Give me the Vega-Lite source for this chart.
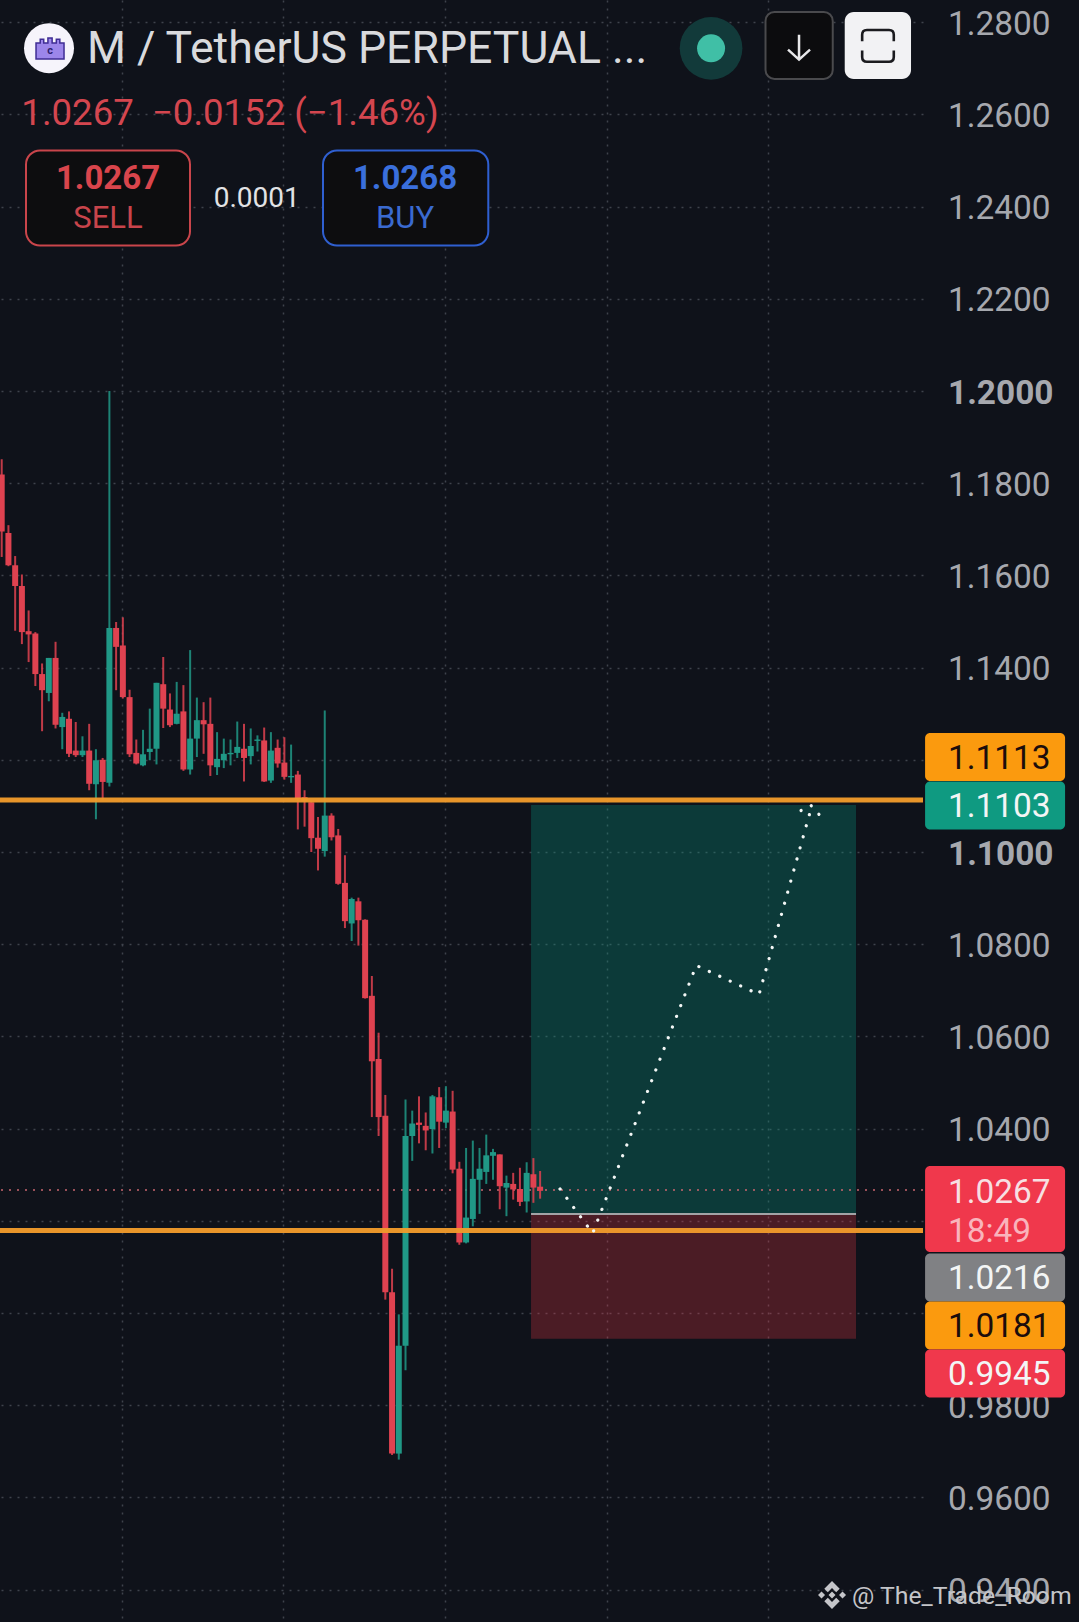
{
  "$schema": "https://vega.github.io/schema/vega-lite/v6.json",
  "width": 923,
  "height": 1622,
  "autosize": "none",
  "padding": {"left": 0, "top": 0, "right": 156, "bottom": 0},
  "background": "#0f121a",
  "config": {"view": {"stroke": null}, "font": "Roboto", "text": {"font": "Roboto"}},
  "datasets": {
    "candles": [
      {"bar":0,"open":1.1819,"close":1.1695,"high":1.1852,"low":1.1640},
      {"bar":1,"open":1.1692,"close":1.1622,"high":1.1709,"low":1.1620},
      {"bar":2,"open":1.1622,"close":1.1577,"high":1.1642,"low":1.1480},
      {"bar":3,"open":1.1577,"close":1.1477,"high":1.1602,"low":1.1451},
      {"bar":4,"open":1.1479,"close":1.1472,"high":1.1524,"low":1.1412},
      {"bar":5,"open":1.1474,"close":1.1386,"high":1.1477,"low":1.1360},
      {"bar":6,"open":1.1386,"close":1.1351,"high":1.1409,"low":1.1262},
      {"bar":7,"open":1.1345,"close":1.1421,"high":1.1421,"low":1.1327},
      {"bar":8,"open":1.1421,"close":1.1276,"high":1.1456,"low":1.1268},
      {"bar":9,"open":1.1271,"close":1.1293,"high":1.1302,"low":1.1223},
      {"bar":10,"open":1.1289,"close":1.1213,"high":1.1305,"low":1.1206},
      {"bar":11,"open":1.1220,"close":1.1210,"high":1.1282,"low":1.1206},
      {"bar":12,"open":1.1210,"close":1.1220,"high":1.1251,"low":1.1206},
      {"bar":13,"open":1.1220,"close":1.1148,"high":1.1278,"low":1.1134},
      {"bar":14,"open":1.1147,"close":1.1199,"high":1.1223,"low":1.1071},
      {"bar":15,"open":1.1200,"close":1.1152,"high":1.1204,"low":1.1113},
      {"bar":16,"open":1.1150,"close":1.1486,"high":1.2000,"low":1.1142},
      {"bar":17,"open":1.1486,"close":1.1445,"high":1.1499,"low":1.1351},
      {"bar":18,"open":1.1448,"close":1.1336,"high":1.1509,"low":1.1333},
      {"bar":19,"open":1.1336,"close":1.1212,"high":1.1352,"low":1.1206},
      {"bar":20,"open":1.1215,"close":1.1192,"high":1.1244,"low":1.1190},
      {"bar":21,"open":1.1188,"close":1.1212,"high":1.1265,"low":1.1186},
      {"bar":22,"open":1.1217,"close":1.1224,"high":1.1311,"low":1.1199},
      {"bar":23,"open":1.1224,"close":1.1367,"high":1.1367,"low":1.1190},
      {"bar":24,"open":1.1364,"close":1.1311,"high":1.1423,"low":1.1269},
      {"bar":25,"open":1.1309,"close":1.1275,"high":1.1344,"low":1.1271},
      {"bar":26,"open":1.1278,"close":1.1300,"high":1.1369,"low":1.1277},
      {"bar":27,"open":1.1305,"close":1.1179,"high":1.1362,"low":1.1176},
      {"bar":28,"open":1.1179,"close":1.1246,"high":1.1438,"low":1.1168},
      {"bar":29,"open":1.1246,"close":1.1286,"high":1.1335,"low":1.1206},
      {"bar":30,"open":1.1286,"close":1.1277,"high":1.1325,"low":1.1213},
      {"bar":31,"open":1.1278,"close":1.1188,"high":1.1335,"low":1.1165},
      {"bar":32,"open":1.1184,"close":1.1202,"high":1.1260,"low":1.1167},
      {"bar":33,"open":1.1199,"close":1.1213,"high":1.1246,"low":1.1182},
      {"bar":34,"open":1.1212,"close":1.1215,"high":1.1244,"low":1.1188},
      {"bar":35,"open":1.1215,"close":1.1228,"high":1.1283,"low":1.1204},
      {"bar":36,"open":1.1224,"close":1.1204,"high":1.1278,"low":1.1153},
      {"bar":37,"open":1.1208,"close":1.1230,"high":1.1268,"low":1.1190},
      {"bar":38,"open":1.1241,"close":1.1244,"high":1.1253,"low":1.1218},
      {"bar":39,"open":1.1242,"close":1.1153,"high":1.1270,"low":1.1152},
      {"bar":40,"open":1.1155,"close":1.1220,"high":1.1260,"low":1.1150},
      {"bar":41,"open":1.1226,"close":1.1192,"high":1.1244,"low":1.1183},
      {"bar":42,"open":1.1194,"close":1.1163,"high":1.1249,"low":1.1157},
      {"bar":43,"open":1.1162,"close":1.1165,"high":1.1233,"low":1.1150},
      {"bar":44,"open":1.1168,"close":1.1115,"high":1.1176,"low":1.1049},
      {"bar":45,"open":1.1119,"close":1.1110,"high":1.1134,"low":1.1055},
      {"bar":46,"open":1.1108,"close":1.1030,"high":1.1110,"low":1.1000},
      {"bar":47,"open":1.1031,"close":1.1007,"high":1.1076,"low":1.0960},
      {"bar":48,"open":1.1002,"close":1.1079,"high":1.1307,"low":1.0990},
      {"bar":49,"open":1.1079,"close":1.1032,"high":1.1084,"low":1.1025},
      {"bar":50,"open":1.1036,"close":1.0931,"high":1.1050,"low":1.0929},
      {"bar":51,"open":1.0933,"close":1.0850,"high":1.0993,"low":1.0835},
      {"bar":52,"open":1.0845,"close":1.0898,"high":1.0901,"low":1.0807},
      {"bar":53,"open":1.0893,"close":1.0852,"high":1.0901,"low":1.0797},
      {"bar":54,"open":1.0853,"close":1.0683,"high":1.0854,"low":1.0682},
      {"bar":55,"open":1.0688,"close":1.0546,"high":1.0731,"low":1.0425},
      {"bar":56,"open":1.0551,"close":1.0425,"high":1.0608,"low":1.0384},
      {"bar":57,"open":1.0428,"close":1.0045,"high":1.0473,"low":1.0029},
      {"bar":58,"open":1.0045,"close":0.9695,"high":1.0096,"low":0.9692},
      {"bar":59,"open":0.9695,"close":0.9929,"high":0.9997,"low":0.9682},
      {"bar":60,"open":0.9929,"close":1.0384,"high":1.0463,"low":0.9876},
      {"bar":61,"open":1.0384,"close":1.0411,"high":1.0439,"low":1.0330},
      {"bar":62,"open":1.0413,"close":1.0408,"high":1.0470,"low":1.0368},
      {"bar":63,"open":1.0406,"close":1.0396,"high":1.0435,"low":1.0353},
      {"bar":64,"open":1.0399,"close":1.0470,"high":1.0473,"low":1.0346},
      {"bar":65,"open":1.0468,"close":1.0415,"high":1.0490,"low":1.0358},
      {"bar":66,"open":1.0413,"close":1.0439,"high":1.0492,"low":1.0401},
      {"bar":67,"open":1.0437,"close":1.0311,"high":1.0482,"low":1.0303},
      {"bar":68,"open":1.0313,"close":1.0153,"high":1.0328,"low":1.0148},
      {"bar":69,"open":1.0153,"close":1.0207,"high":1.0358,"low":1.0151},
      {"bar":70,"open":1.0204,"close":1.0291,"high":1.0374,"low":1.0188},
      {"bar":71,"open":1.0289,"close":1.0313,"high":1.0358,"low":1.0215},
      {"bar":72,"open":1.0306,"close":1.0342,"high":1.0387,"low":1.0280},
      {"bar":73,"open":1.0341,"close":1.0349,"high":1.0356,"low":1.0289},
      {"bar":74,"open":1.0344,"close":1.0275,"high":1.0344,"low":1.0225},
      {"bar":75,"open":1.0272,"close":1.0282,"high":1.0298,"low":1.0210},
      {"bar":76,"open":1.0280,"close":1.0268,"high":1.0304,"low":1.0246},
      {"bar":77,"open":1.0269,"close":1.0241,"high":1.0315,"low":1.0232},
      {"bar":78,"open":1.0242,"close":1.0304,"high":1.0327,"low":1.0218},
      {"bar":79,"open":1.0301,"close":1.0272,"high":1.0336,"low":1.0239},
      {"bar":80,"open":1.0274,"close":1.0265,"high":1.0308,"low":1.0248}
    ],
    "zones": [
      {"side":"target","start":78.65,"end":126.94,"top":1.1102,"bottom":1.0215},
      {"side":"stop","start":78.65,"end":126.94,"top":1.0215,"bottom":0.9944}
    ],
    "projection": [
      {"part":"path","bar":82.96,"price":1.0269},
      {"part":"path","bar":87.81,"price":1.0173},
      {"part":"path","bar":103.2,"price":1.0754},
      {"part":"path","bar":112.53,"price":1.0691},
      {"part":"path","bar":120.35,"price":1.1099},
      {"part":"head","bar":118.77,"price":1.1090},
      {"part":"head","bar":120.25,"price":1.1101},
      {"part":"head","bar":122.08,"price":1.1071}
    ],
    "tags": [
      {"label":"1.1113","kind":"level","slot":1.12061},
      {"label":"1.1103","kind":"target","slot":1.11009},
      {"label":"1.0216","kind":"entry","slot":1.00772},
      {"label":"1.0181","kind":"level","slot":0.99729},
      {"label":"0.9945","kind":"stop","slot":0.98688}
    ],
    "lastPrice": [
      {"label":"1.0267","timer":"18:49","kind":"stop","slot":1.02256,"labelSlot":1.02653,"timerSlot":1.018}
    ]
  },
  "layer": [
    {
      "data": {"name": "zones"},
      "mark": {"type": "rect"},
      "encoding": {
        "x": {
          "field": "start", "type": "quantitative", "title": null,
          "scale": {"domain": [-0.2526, 136.89], "nice": false, "zero": false, "padding": 0},
          "axis": {
            "values": [17.87, 41.87, 65.87, 89.87, 113.87],
            "grid": true, "gridColor": "#3f434c", "gridDash": [2, 6], "gridWidth": 1.5,
            "labels": false, "ticks": false, "domain": false
          }
        },
        "x2": {"field": "end"},
        "y": {
          "field": "top", "type": "quantitative", "title": null,
          "scale": {"domain": [0.93297, 1.28482], "nice": false, "zero": false},
          "axis": {
            "orient": "right",
            "values": [0.94, 0.96, 0.98, 1.0, 1.02, 1.04, 1.06, 1.08, 1.1, 1.12, 1.14, 1.16, 1.18, 1.2, 1.22, 1.24, 1.26, 1.28],
            "format": ".4f",
            "labelExpr": "abs(datum.value - 1) < 0.001 || abs(datum.value - 1.02) < 0.001 || abs(datum.value - 1.12) < 0.001 ? '' : datum.label",
            "grid": true, "gridColor": "#3f434c", "gridDash": [2, 6], "gridWidth": 1.5,
            "ticks": false, "domain": false, "labelPadding": 24.5, "labelOffset": 2,
            "labelFont": "Roboto", "labelFontSize": 33.4, "labelColor": "#a6a8ae",
            "labelFontWeight": {"condition": {"test": "datum.value === 1.2 || datum.value === 1.1", "value": "bold"}, "value": "normal"},
            "labelOverlap": false, "labelBound": false, "labelFlush": false
          }
        },
        "y2": {"field": "bottom"},
        "color": {"condition": {"test": "datum.side === 'target'", "value": "#089981"}, "value": "#f23645"},
        "opacity": {"condition": {"test": "datum.side === 'target'", "value": 0.3}, "value": 0.27}
      }
    },
    {
      "data": {"name": "zones"},
      "transform": [{"filter": "datum.side === 'stop'"}],
      "mark": {"type": "rule", "color": "#a3a3a6", "strokeWidth": 2},
      "encoding": {
        "x": {"field": "start", "type": "quantitative"},
        "x2": {"field": "end"},
        "y": {"field": "top", "type": "quantitative"}
      }
    },
    {
      "data": {"values": [{"level": 1.0267}]},
      "mark": {"type": "rule", "color": "#c9656f", "strokeWidth": 1.5, "strokeDash": [2, 6]},
      "encoding": {"y": {"field": "level", "type": "quantitative"}}
    },
    {
      "data": {"name": "candles"},
      "mark": {"type": "rule", "strokeWidth": 2, "opacity": 0.85},
      "encoding": {
        "x": {"field": "bar", "type": "quantitative"},
        "y": {"field": "low", "type": "quantitative"},
        "y2": {"field": "high"},
        "color": {"condition": {"test": "datum.close >= datum.open", "value": "#209886"}, "value": "#df4250"}
      }
    },
    {
      "data": {"name": "candles"},
      "mark": {"type": "bar", "size": 6},
      "encoding": {
        "x": {"field": "bar", "type": "quantitative"},
        "y": {"field": "open", "type": "quantitative"},
        "y2": {"field": "close"},
        "color": {"condition": {"test": "datum.close >= datum.open", "value": "#209886"}, "value": "#df4250"}
      }
    },
    {
      "data": {"values": [{"level": 1.1113}, {"level": 1.0179}]},
      "mark": {"type": "rule", "color": "#f09a2b", "strokeWidth": 5, "opacity": 0.97},
      "encoding": {"y": {"field": "level", "type": "quantitative"}}
    },
    {
      "data": {"name": "projection"},
      "mark": {"type": "line", "color": "#f2f6f5", "strokeWidth": 3.2, "strokeCap": "round", "strokeDash": [0.1, 11.4]},
      "encoding": {
        "x": {"field": "bar", "type": "quantitative"},
        "y": {"field": "price", "type": "quantitative"},
        "detail": {"field": "part"},
        "order": {"field": "bar", "type": "quantitative"}
      }
    },
    {
      "data": {"name": "tags"},
      "mark": {"type": "rect", "width": 140, "height": 48, "cornerRadius": 5},
      "encoding": {
        "x": {"datum": 147.6, "type": "quantitative"},
        "y": {"field": "slot", "type": "quantitative"},
        "color": {
          "field": "kind", "type": "nominal", "legend": null,
          "scale": {"domain": ["level", "target", "entry", "stop"], "range": ["#fb9a0e", "#0f9a81", "#808184", "#f0384c"]}
        }
      }
    },
    {
      "data": {"name": "lastPrice"},
      "mark": {"type": "rect", "width": 140, "height": 86, "cornerRadius": 5},
      "encoding": {
        "x": {"datum": 147.6, "type": "quantitative"},
        "y": {"field": "slot", "type": "quantitative"},
        "color": {"field": "kind", "type": "nominal", "legend": null}
      }
    },
    {
      "data": {"name": "tags"},
      "mark": {"type": "text", "align": "left", "baseline": "middle", "dy": 2, "fontSize": 33.4, "font": "Roboto"},
      "encoding": {
        "x": {"datum": 140.6, "type": "quantitative"},
        "y": {"field": "slot", "type": "quantitative"},
        "text": {"field": "label"},
        "color": {"condition": {"test": "datum.kind === 'level'", "value": "#1c0d0c"}, "value": "#f3f5f5"}
      }
    },
    {
      "data": {"name": "lastPrice"},
      "mark": {"type": "text", "align": "left", "baseline": "middle", "dy": 2, "fontSize": 33.4, "font": "Roboto", "color": "#f7dfe2"},
      "encoding": {
        "x": {"datum": 140.6, "type": "quantitative"},
        "y": {"field": "labelSlot", "type": "quantitative"},
        "text": {"field": "label"}
      }
    },
    {
      "data": {"name": "lastPrice"},
      "mark": {"type": "text", "align": "left", "baseline": "middle", "dy": 2, "fontSize": 33.4, "font": "Roboto", "color": "#f9b4bc"},
      "encoding": {
        "x": {"datum": 140.6, "type": "quantitative"},
        "y": {"field": "timerSlot", "type": "quantitative"},
        "text": {"field": "timer"}
      }
    },
    {
      "data": {"values": [{"label": "@ The_Trade_Room"}]},
      "mark": {"type": "text", "align": "left", "baseline": "alphabetic", "fontSize": 24.8, "font": "Roboto", "color": "#c4c5c9"},
      "encoding": {
        "x": {"datum": 126.35, "type": "quantitative"},
        "y": {"datum": 0.93688, "type": "quantitative"},
        "text": {"field": "label"}
      }
    },
    {
      "data": {"values": [{"icon": "binance"}]},
      "mark": {
        "type": "point", "filled": true, "color": "#c4c5c9", "opacity": 1, "size": 784,
        "shape": "M0,-1 L0.55,-0.45 L0.3,-0.2 L0,-0.5 L-0.3,-0.2 L-0.55,-0.45 Z M0,1 L0.55,0.45 L0.3,0.2 L0,0.5 L-0.3,0.2 L-0.55,0.45 Z M-1,0 L-0.75,-0.25 L-0.5,0 L-0.75,0.25 Z M1,0 L0.75,-0.25 L0.5,0 L0.75,0.25 Z M0,-0.25 L0.25,0 L0,0.25 L-0.25,0 Z"
      },
      "encoding": {
        "x": {"datum": 123.37, "type": "quantitative"},
        "y": {"datum": 0.93883, "type": "quantitative"}
      }
    },
    {
      "data": {"values": [{"icon": "logo"}]},
      "mark": {"type": "point", "shape": "circle", "filled": true, "color": "#f6f4fb", "opacity": 1, "size": 2500},
      "encoding": {
        "x": {"datum": 7.03, "type": "quantitative"},
        "y": {"datum": 1.27437, "type": "quantitative"}
      }
    },
    {
      "data": {"values": [{"icon": "block"}]},
      "mark": {
        "type": "point", "filled": true, "color": "#9c86ea", "stroke": "#3f2d94", "strokeWidth": 1.5, "opacity": 1, "size": 784,
        "shape": "M-1,0.72 L-1,-0.42 L-0.7,-0.42 L-0.7,-0.7 L-0.45,-0.7 L-0.45,-0.42 L-0.15,-0.42 L-0.15,-0.78 L0.15,-0.78 L0.15,-0.42 L0.45,-0.42 L0.45,-0.7 L0.7,-0.7 L0.7,-0.42 L1,-0.42 L1,0.72 Z"
      },
      "encoding": {
        "x": {"datum": 7.18, "type": "quantitative"},
        "y": {"datum": 1.2742, "type": "quantitative"}
      }
    },
    {
      "data": {"values": [{"label": "c"}]},
      "mark": {"type": "text", "align": "center", "baseline": "middle", "fontSize": 11, "fontWeight": "bold", "font": "Roboto", "color": "#2d2070"},
      "encoding": {
        "x": {"datum": 7.18, "type": "quantitative"},
        "y": {"datum": 1.2737, "type": "quantitative"},
        "text": {"field": "label"}
      }
    },
    {
      "data": {"values": [{"label": "M / TetherUS PERPETUAL ..."}]},
      "mark": {"type": "text", "align": "left", "baseline": "alphabetic", "fontSize": 44.6, "font": "Roboto", "color": "#d9dadd"},
      "encoding": {
        "x": {"datum": 12.66, "type": "quantitative"},
        "y": {"datum": 1.27123, "type": "quantitative"},
        "text": {"field": "label"}
      }
    },
    {
      "data": {"values": [{"label": "1.0267\u00a0\u00a0−0.0152 (−1.46%)"}]},
      "mark": {"type": "text", "align": "left", "baseline": "alphabetic", "fontSize": 36.6, "font": "Roboto", "color": "#d4464f"},
      "encoding": {
        "x": {"datum": 2.92, "type": "quantitative"},
        "y": {"datum": 1.25776, "type": "quantitative"},
        "text": {"field": "label"}
      }
    },
    {
      "data": {"values": [{"side": "sell", "x1": 3.61, "x2": 27.98}, {"side": "buy", "x1": 47.74, "x2": 72.3}]},
      "mark": {"type": "rect", "fill": "#0d0d0f", "cornerRadius": 14, "strokeWidth": 2},
      "encoding": {
        "x": {"field": "x1", "type": "quantitative"},
        "x2": {"field": "x2"},
        "y": {"datum": 1.25218, "type": "quantitative"},
        "y2": {"datum": 1.23155},
        "stroke": {"condition": {"test": "datum.side === 'sell'", "value": "#c9454b"}, "value": "#2f5fd0"}
      }
    },
    {
      "data": {"values": [{"label": "1.0267", "side": "sell", "bar": 15.8}, {"label": "1.0268", "side": "buy", "bar": 59.93}]},
      "mark": {"type": "text", "align": "center", "baseline": "alphabetic", "fontSize": 33, "fontWeight": "bold", "font": "Roboto"},
      "encoding": {
        "x": {"field": "bar", "type": "quantitative"},
        "y": {"datum": 1.24387, "type": "quantitative"},
        "text": {"field": "label"},
        "fill": {"condition": {"test": "datum.side === 'sell'", "value": "#d9454c"}, "value": "#3a6fdc"}
      }
    },
    {
      "data": {"values": [{"label": "SELL", "side": "sell", "bar": 15.8}, {"label": "BUY", "side": "buy", "bar": 59.93}]},
      "mark": {"type": "text", "align": "center", "baseline": "alphabetic", "fontSize": 31, "font": "Roboto"},
      "encoding": {
        "x": {"field": "bar", "type": "quantitative"},
        "y": {"datum": 1.2354, "type": "quantitative"},
        "text": {"field": "label"},
        "fill": {"condition": {"test": "datum.side === 'sell'", "value": "#c8444b"}, "value": "#3a6ad0"}
      }
    },
    {
      "data": {"values": [{"label": "0.0001"}]},
      "mark": {"type": "text", "align": "center", "baseline": "alphabetic", "fontSize": 28, "font": "Roboto", "color": "#e2e3e5"},
      "encoding": {
        "x": {"datum": 37.9, "type": "quantitative"},
        "y": {"datum": 1.23996, "type": "quantitative"},
        "text": {"field": "label"}
      }
    },
    {
      "data": {"values": [{"icon": "status"}]},
      "mark": {"type": "point", "shape": "circle", "filled": true, "color": "#123a3a", "opacity": 1, "size": 3930},
      "encoding": {
        "x": {"datum": 105.4, "type": "quantitative"},
        "y": {"datum": 1.27433, "type": "quantitative"}
      }
    },
    {
      "data": {"values": [{"icon": "status"}]},
      "mark": {"type": "point", "shape": "circle", "filled": true, "color": "#40bfa6", "opacity": 1, "size": 784},
      "encoding": {
        "x": {"datum": 105.4, "type": "quantitative"},
        "y": {"datum": 1.27433, "type": "quantitative"}
      }
    },
    {
      "data": {"values": [{"button": "down"}]},
      "mark": {"type": "rect", "fill": "#0c0c0e", "stroke": "#4a4a4d", "strokeWidth": 2, "cornerRadius": 9},
      "encoding": {
        "x": {"datum": 113.49, "type": "quantitative"},
        "x2": {"datum": 123.48},
        "y": {"datum": 1.28224, "type": "quantitative"},
        "y2": {"datum": 1.26769}
      }
    },
    {
      "data": {"values": [{"button": "capture"}]},
      "mark": {"type": "rect", "fill": "#f2f2f4", "cornerRadius": 9},
      "encoding": {
        "x": {"datum": 125.26, "type": "quantitative"},
        "x2": {"datum": 135.11},
        "y": {"datum": 1.28224, "type": "quantitative"},
        "y2": {"datum": 1.26769}
      }
    },
    {
      "data": {"values": [{"icon": "arrow"}]},
      "mark": {
        "type": "point", "filled": false, "color": "#e8e8ea", "strokeWidth": 2.5, "opacity": 1, "size": 625,
        "shape": "M0,-1 L0,1 M-0.88,0.2 L0,1 L0.88,0.2"
      },
      "encoding": {
        "x": {"datum": 118.47, "type": "quantitative"},
        "y": {"datum": 1.27459, "type": "quantitative"}
      }
    },
    {
      "data": {"values": [{"icon": "capture"}]},
      "mark": {
        "type": "point", "filled": false, "color": "#1b1b1f", "strokeWidth": 2.6, "opacity": 1, "size": 1000,
        "shape": "M-1,-0.3 L-1,-0.7 Q-1,-1 -0.7,-1 L0.7,-1 Q1,-1 1,-0.7 L1,-0.3 M-1,0.3 L-1,0.7 Q-1,1 -0.7,1 L0.7,1 Q1,1 1,0.7 L1,0.3"
      },
      "encoding": {
        "x": {"datum": 130.2, "type": "quantitative"},
        "y": {"datum": 1.27487, "type": "quantitative"}
      }
    }
  ]
}
